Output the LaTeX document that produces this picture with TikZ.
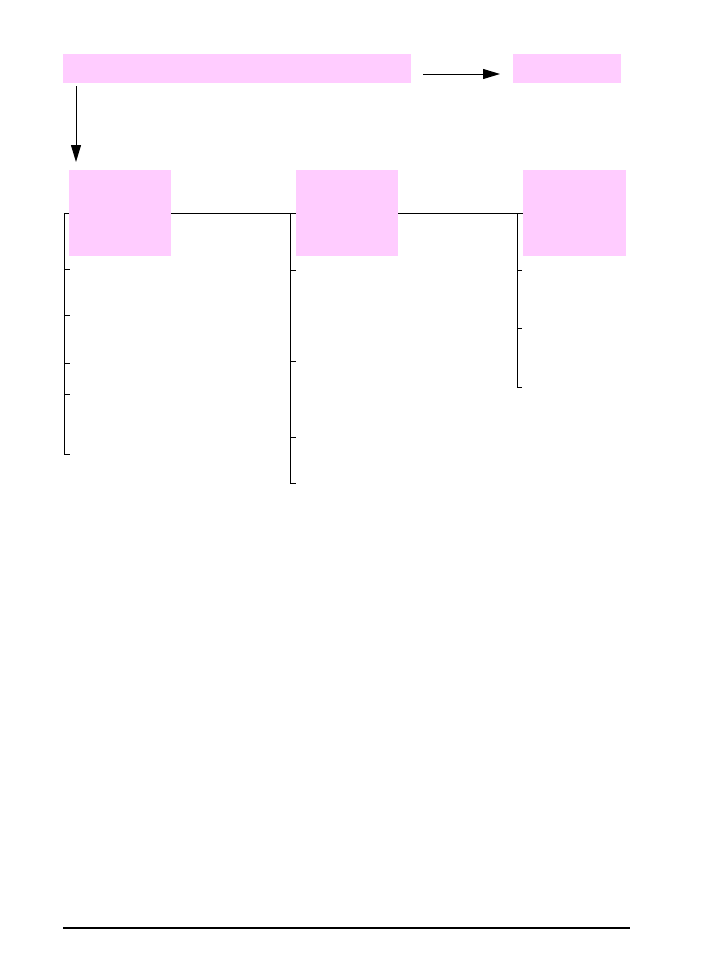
\documentclass[tikz,border=0pt]{standalone}
\usetikzlibrary{arrows.meta}
\definecolor{boxpink}{RGB}{255,204,255}
\begin{document}
\begin{tikzpicture}[x=1pt,y=-1pt,
  pinkbox/.style={fill=boxpink, draw=none, inner sep=0pt, outer sep=0pt, anchor=north west},
  conn/.style={line width=1pt, line cap=butt},
  arr/.style={line width=1pt, -{Triangle[length=17pt,width=10pt]}}]
\useasboundingbox (0,0) rectangle (702,972);
% boxes
\node[pinkbox, minimum width=348pt, minimum height=29pt] (top) at (63,54) {};
\node[pinkbox, minimum width=108pt, minimum height=29pt] (right) at (513,54) {};
\node[pinkbox, minimum width=102pt, minimum height=86pt] (b1) at (69,170) {};
\node[pinkbox, minimum width=102pt, minimum height=86pt] (b2) at (296,170) {};
\node[pinkbox, minimum width=103pt, minimum height=86pt] (b3) at (523,170) {};
% arrows
\coordinate (a1s) at (76,86);
\coordinate (a1e) at (76,162);
\draw[arr] (a1s) -- (a1e);
\coordinate (a2s) at (423,74);
\coordinate (a2e) at (500,74);
\draw[arr] (a2s) -- (a2e);
% junctions
\coordinate (j1) at (64.7,213);
\coordinate (j2) at (290.7,213);
\coordinate (j3) at (517.3,213);
\draw[conn] (b1.east |- j1) -- (b2.west |- j2);
\draw[conn] (b2.east |- j2) -- (b3.west |- j3);
% bracket 1
\draw[conn] (b1.west |- j1) -- (j1) -- (64.7,454) -- (69.7,454);
\foreach \y in {269.3,315.3,363.3,394.3} \draw[conn] (64.7,\y) -- (69.7,\y);
% bracket 2
\draw[conn] (j2) -- (290.7,483.3) -- (295.7,483.3);
\foreach \y in {270,361.3,437.3} \draw[conn] (290.7,\y) -- (295.7,\y);
% bracket 3
\draw[conn] (j3) -- (517.3,387.3) -- (522.3,387.3);
\foreach \y in {270,328.7} \draw[conn] (517.3,\y) -- (522.3,\y);
% bottom rule
\coordinate (r1) at (63,927.5);
\coordinate (r2) at (630,927.5);
\draw[line width=2pt] (r1) -- (r2);
\end{tikzpicture}
\end{document}
